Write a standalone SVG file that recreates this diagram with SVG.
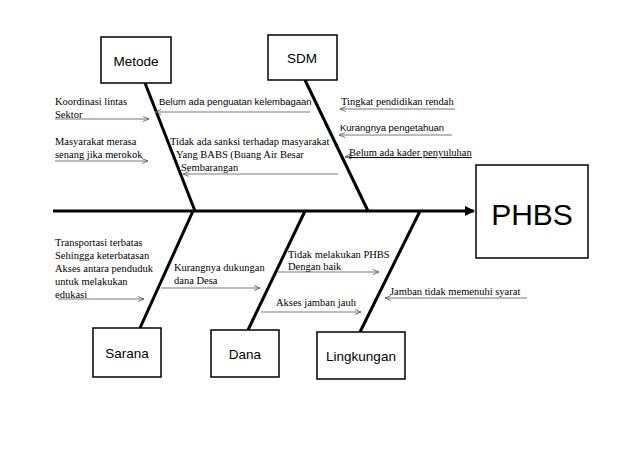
<svg xmlns="http://www.w3.org/2000/svg" width="638" height="451" viewBox="0 0 638 451">
<style>
.box{fill:#fff;stroke:#000;stroke-width:1.5}
.bone{stroke:#000;stroke-width:3;fill:none}
.ar{stroke:#555;stroke-width:0.8;fill:none;marker-end:url(#a)}
.s{font-family:"Liberation Sans",Arial,sans-serif;font-size:9.5px}
.t{font-family:"Liberation Serif","Times New Roman",serif;font-size:10.5px}
.l{font-family:"Liberation Sans",Arial,sans-serif;font-size:13.5px}
</style>
<defs>
<marker id="a" markerWidth="8" markerHeight="8" refX="7" refY="4" orient="auto" markerUnits="userSpaceOnUse"><path d="M1,1.5 L7,4 L1,6.5" fill="none" stroke="#555" stroke-width="0.8"/></marker>
<marker id="big" markerWidth="10" markerHeight="10" refX="9" refY="5" orient="auto" markerUnits="userSpaceOnUse"><path d="M0,0 L10,5 L0,10 z" fill="#000"/></marker>
</defs>
<g id="connectors">
<line x1="53" y1="211" x2="474" y2="211" stroke="#000" stroke-width="3" marker-end="url(#big)"/>
<line class="bone" x1="145" y1="83" x2="195" y2="211"/>
<line class="bone" x1="305" y1="80" x2="368" y2="211"/>
<line class="bone" x1="193" y1="211" x2="140" y2="328"/>
<line class="bone" x1="305" y1="211" x2="248" y2="330"/>
<line class="bone" x1="420" y1="211" x2="360" y2="332"/>
<line class="ar" x1="55" y1="119" x2="149" y2="119"/>
<line class="ar" x1="310" y1="112" x2="155" y2="112"/>
<line class="ar" x1="55" y1="161" x2="148" y2="161"/>
<line class="ar" x1="338" y1="174" x2="183" y2="174"/>
<line class="ar" x1="455" y1="109" x2="340" y2="109"/>
<line class="ar" x1="452" y1="135" x2="339" y2="135"/>
<line class="ar" x1="352" y1="156" x2="345" y2="157"/>
<line class="ar" x1="58" y1="299" x2="144" y2="299"/>
<line class="ar" x1="161" y1="288" x2="260" y2="288"/>
<line class="ar" x1="278" y1="272" x2="379" y2="272"/>
<line class="ar" x1="261" y1="312" x2="361" y2="312"/>
<line class="ar" x1="527" y1="298" x2="385" y2="298"/>
</g>
<g id="metode"><rect class="box" x="101" y="37" width="70" height="46"/><text class="l" x="136" y="66" text-anchor="middle">Metode</text></g>
<g id="sdm"><rect class="box" x="268" y="35" width="69" height="45"/><text class="l" x="302" y="63" text-anchor="middle">SDM</text></g>
<g id="phbs"><rect class="box" x="476" y="165" width="112" height="93"/><text x="532" y="225" text-anchor="middle" font-family="Liberation Sans,Arial,sans-serif" font-size="30">PHBS</text></g>
<g id="sarana"><rect class="box" x="93" y="328" width="68" height="49"/><text class="l" x="127" y="358" text-anchor="middle">Sarana</text></g>
<g id="dana"><rect class="box" x="211" y="330" width="68" height="47"/><text class="l" x="245" y="359" text-anchor="middle">Dana</text></g>
<g id="lingkungan"><rect class="box" x="317" y="332" width="88" height="47"/><text class="l" x="361" y="361" text-anchor="middle">Lingkungan</text></g>
<g id="labels">
<text class="t" x="55" y="105">Koordinasi lintas</text><text class="t" x="55" y="118">Sektor</text>
<text class="s" x="159" y="105">Belum ada penguatan kelembagaan</text>
<text class="t" x="55" y="145">Masyarakat merasa</text><text class="t" x="55" y="158">senang jika merokok</text>
<text class="t" x="170" y="145">Tidak ada sanksi terhadap masyarakat</text>
<text class="t" x="176" y="158">Yang BABS (Buang Air Besar</text>
<text class="t" x="181" y="171">Sembarangan</text>
<text class="t" x="341" y="105">Tingkat pendidikan rendah</text>
<text class="s" x="340" y="131">Kurangnya pengetahuan</text>
<text class="t" x="349" y="156" text-decoration="underline">Belum ada kader penyuluhan</text>
<text class="t" x="55" y="246">Transportasi terbatas</text>
<text class="t" x="55" y="259">Sehingga keterbatasan</text>
<text class="t" x="55" y="272">Akses antara penduduk</text>
<text class="t" x="55" y="285">untuk melakukan</text>
<text class="t" x="55" y="298">edukasi</text>
<text class="t" x="174" y="271">Kurangnya dukungan</text>
<text class="t" x="174" y="284">dana Desa</text>
<text class="t" x="288" y="258">Tidak melakukan PHBS</text>
<text class="t" x="288" y="270">Dengan baik</text>
<text class="t" x="276" y="306">Akses jamban jauh</text>
<text class="t" x="390" y="295">Jamban tidak memenuhi syarat</text>
</g>
</svg>
